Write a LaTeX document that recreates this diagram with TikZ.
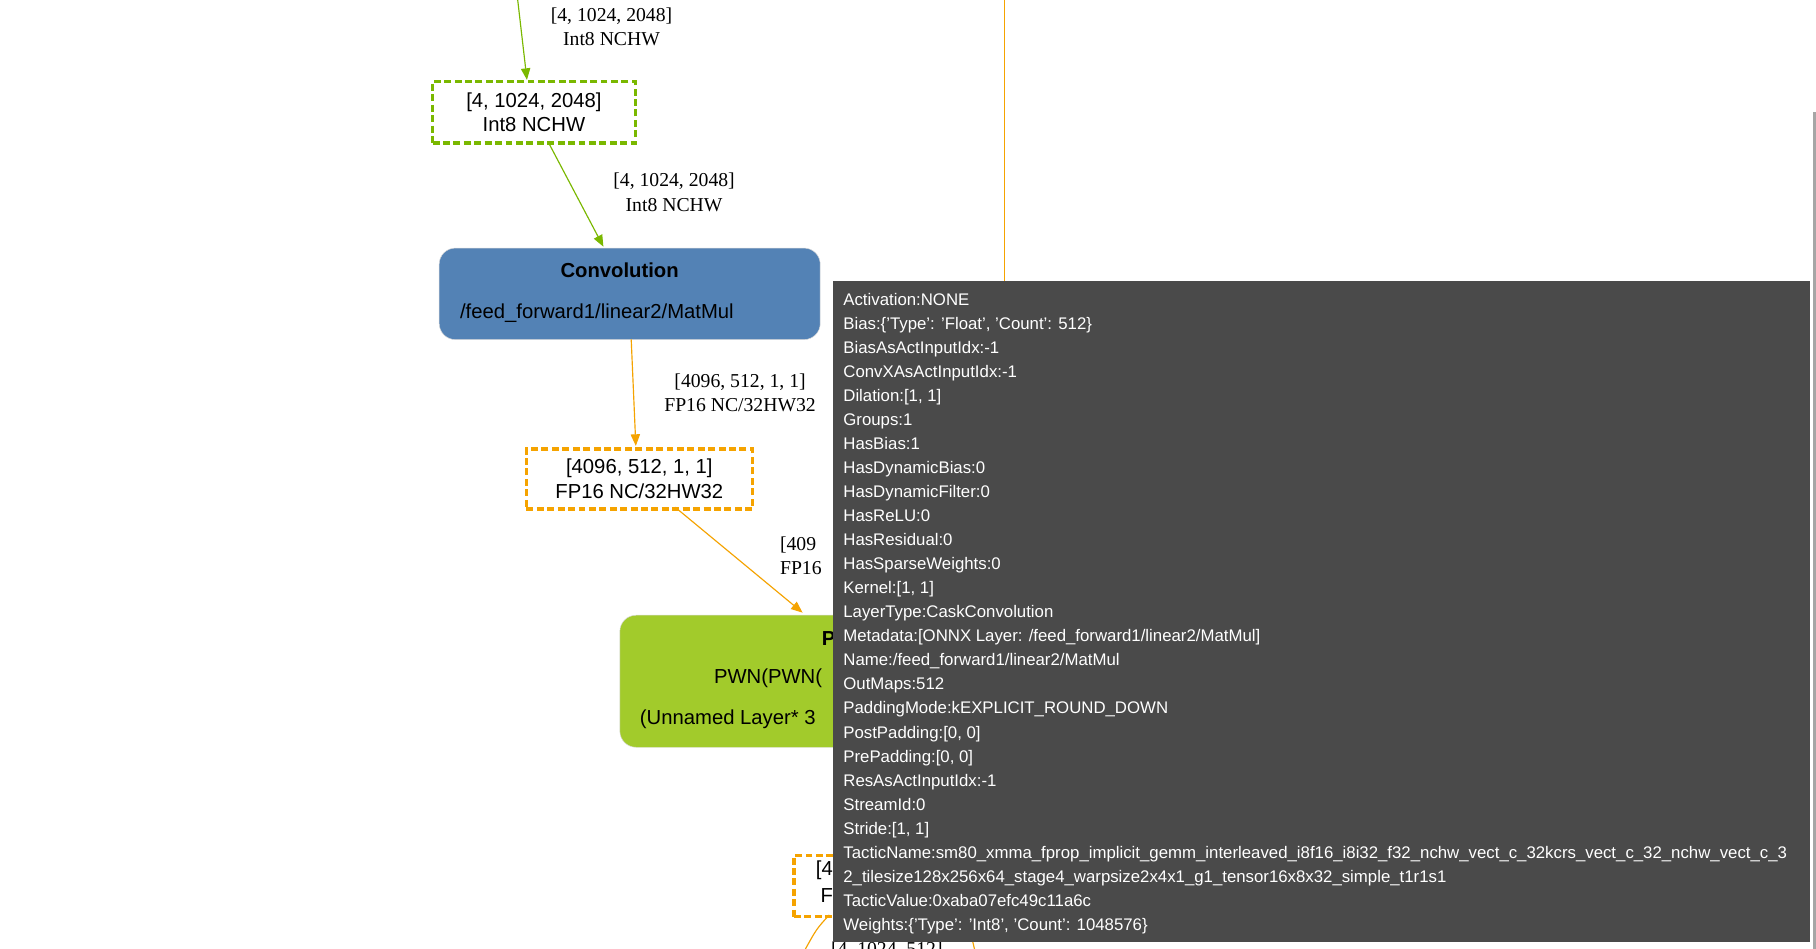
\documentclass[tikz,border=0pt]{standalone}
\usepackage{fontspec}
\setmainfont{Liberation Sans}
\newfontfamily\lbl{Liberation Serif}
\usetikzlibrary{arrows.meta}
\definecolor{gedge}{HTML}{7AB800}
\definecolor{oedge}{HTML}{F5A300}
\definecolor{convblue}{HTML}{5382B5}
\definecolor{pwngreen}{HTML}{A2CB2B}
\definecolor{tipgray}{HTML}{4A4A4A}
\begin{document}
\begin{tikzpicture}[x=1pt,y=-1pt,
  tensor/.style={draw, line width=3pt, dash pattern=on 6pt off 3pt, fill=white, anchor=north west},
  layer/.style={draw=black!15, rounded corners=14pt, anchor=north west},
  elabel/.style={font=\lbl\fontsize{17}{21}\selectfont, align=center},
  ntext/.style={font=\fontsize{17.5}{21}\selectfont, align=center},
  garrow/.style={draw=gedge, line width=1pt, -{Triangle[length=10pt,width=8pt]}},
  oarrow/.style={draw=oedge, line width=1pt, -{Triangle[length=10pt,width=8pt]}},
  tip/.style={font=\fontsize{14.5}{20.75}\selectfont, text=white, anchor=north west, align=left, inner sep=0pt}]
\useasboundingbox (0,0) rectangle (1568,819);
\fill[white] (0,0) rectangle (1568,819);

% nodes
\node[tensor, draw=gedge, minimum width=175pt, minimum height=53pt] (t1) at (372,69) {};
\node[ntext] at (t1.center) {[4, 1024, 2048]\\Int8 NCHW};
\node[layer, fill=convblue, minimum width=329pt, minimum height=79pt] (conv) at (379,214) {};
\node[font=\bfseries\fontsize{17.5}{21}\selectfont] at (535,233) {Convolution};
\node[ntext, anchor=west, inner sep=0pt] at (397,270) {/feed\_forward1/linear2/MatMul};
\node[tensor, draw=oedge, minimum width=195pt, minimum height=52pt] (t2) at (453,386) {};
\node[ntext] at (t2.center) {[4096, 512, 1, 1]\\FP16 NC/32HW32};
\node[layer, fill=pwngreen, minimum width=360pt, minimum height=114pt] (pwn) at (535,531) {};
\node[font=\bfseries\fontsize{17.5}{21}\selectfont, anchor=west] at (706,551) {P};
\node[ntext, anchor=west] at (613,586) {PWN(PWN(};
\node[ntext, anchor=west] at (549,621) {(Unnamed Layer* 3};
\node[tensor, draw=oedge, minimum width=175pt, minimum height=53pt] (t3) at (684,737) {};
\node[ntext, anchor=west] at (701,751) {[4};
\node[ntext, anchor=west] at (705,773) {F};

% edges
\coordinate (in) at (447,0);
\draw[garrow] (in) -- (t1.north -| 455,0);
\node[elabel] at (528,23) {[4, 1024, 2048]\\Int8 NCHW};
\draw[garrow] (473,122) -- (521,213);
\node[elabel] at (582,166) {[4, 1024, 2048]\\Int8 NCHW};
\draw[oarrow] (545,293) -- (549,385);
\node[elabel] at (639,339) {[4096, 512, 1, 1]\\FP16 NC/32HW32};
\draw[oarrow] (583,438) -- (693,529);
\node[elabel, anchor=north west, align=left] at (670,460) {[409\\FP16};
\coordinate (o1) at (694,822);
\coordinate (o2) at (842,822);
\draw[oedge, line width=1pt] (716,790) .. controls (705,802) .. (o1);
\draw[oedge, line width=1pt] (835,790) .. controls (838,805) .. (o2);
\node[elabel, anchor=north west] at (714,810) {[4, 1024, 512]};
\draw[oedge, line width=1pt] (867,0) -- (867,243);

% tooltip panel
\fill[tipgray] (719,243) rectangle (1563,813);
\node[tip] at (728,253) {Activation:NONE\\
Bias:\{'Type': 'Float', 'Count': 512\}\\
BiasAsActInputIdx:-1\\
ConvXAsActInputIdx:-1\\
Dilation:[1, 1]\\
Groups:1\\
HasBias:1\\
HasDynamicBias:0\\
HasDynamicFilter:0\\
HasReLU:0\\
HasResidual:0\\
HasSparseWeights:0\\
Kernel:[1, 1]\\
LayerType:CaskConvolution\\
Metadata:[ONNX Layer: /feed\_forward1/linear2/MatMul]\\
Name:/feed\_forward1/linear2/MatMul\\
OutMaps:512\\
PaddingMode:kEXPLICIT\_ROUND\_DOWN\\
PostPadding:[0, 0]\\
PrePadding:[0, 0]\\
ResAsActInputIdx:-1\\
StreamId:0\\
Stride:[1, 1]\\
TacticName:sm80\_xmma\_fprop\_implicit\_gemm\_interleaved\_i8f16\_i8i32\_f32\_nchw\_vect\_c\_32kcrs\_vect\_c\_32\_nchw\_vect\_c\_3\\
2\_tilesize128x256x64\_stage4\_warpsize2x4x1\_g1\_tensor16x8x32\_simple\_t1r1s1\\
TacticValue:0xaba07efc49c11a6c\\
Weights:\{'Type': 'Int8', 'Count': 1048576\}};

% scrollbar
\fill[gray!70] (1565,97) rectangle (1568,819);
\end{tikzpicture}
\end{document}
